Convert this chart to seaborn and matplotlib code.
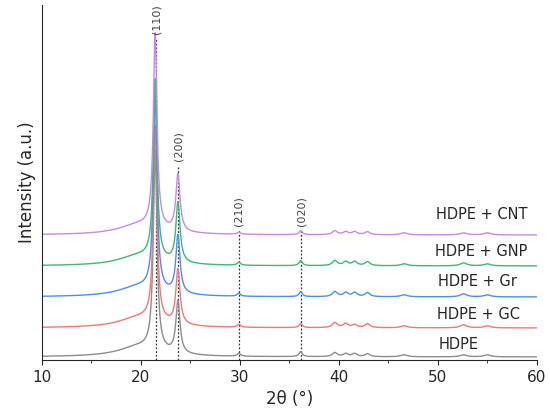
import numpy as np
import pandas as pd
import matplotlib
matplotlib.use("Agg")
import matplotlib.pyplot as plt
import seaborn as sns

samples = ["HDPE", "HDPE + GC", "HDPE + Gr", "HDPE + GNP", "HDPE + CNT"]
colors = ["#8c8c8c", "#f07878", "#4a90e8", "#3cb878", "#c58ae8"]
baselines = [3, 32, 63, 94, 125]
# peak tables: position (2θ), height above baseline, half width
peak_pos = [19.8, 21.45, 23.75, 29.9, 36.15, 39.6, 40.7, 41.6, 42.9, 46.6, 52.6, 55.0]
peak_wid = [2.5, 0.22, 0.25, 0.2, 0.2, 0.3, 0.3, 0.3, 0.3, 0.4, 0.4, 0.4]
peak_h = {
    "HDPE":       [10, 200, 52, 3, 5, 4, 3, 3, 3, 2, 2, 2],
    "HDPE + GC":  [10, 195, 55, 3, 4, 5, 4, 3, 4, 2, 3, 2],
    "HDPE + Gr":  [10, 198, 58, 3, 5, 5, 4, 4, 4, 2, 3, 2],
    "HDPE + GNP": [10, 180, 60, 3, 5, 5, 4, 4, 4, 2, 3, 2],
    "HDPE + CNT": [10, 195, 57, 2, 4, 4, 3, 3, 3, 2, 2, 2],
}
planes = ["(110)", "(200)", "(210)", "(020)"]
plane_x = [21.55, 23.8, 29.9, 36.2]
plane_top = [322, 195, 130, 130]
label_x = [52.1, 54.1, 54.0, 54.4, 54.4]
label_y = [15, 45, 78, 108, 145]

x = np.linspace(10, 60, 2501)
rows = []
for s, b in zip(samples, baselines):
    y = np.full_like(x, b, dtype=float)
    for p, w, h in zip(peak_pos, peak_wid, peak_h[s]):
        y += h / (1 + ((x - p) / w) ** 2)
    rows.append(pd.DataFrame({"x": x, "y": y, "sample": s}))
df = pd.concat(rows)

sns.set_style("ticks")
fig = plt.figure(figsize=(5.5, 4.2), dpi=100)
ax = fig.add_axes([0.076, 0.143, 0.9, 0.845])
for xv, top in zip(plane_x, plane_top):
    ax.plot([xv, xv], [0, top], ls=(0, (1.5, 1.5)), color="#333333", lw=0.9, zorder=1)
sns.lineplot(data=df, x="x", y="y", hue="sample", palette=dict(zip(samples, colors)),
             lw=1.0, legend=False, ax=ax, zorder=2)
for name, xv, top in zip(planes, plane_x, plane_top):
    ax.text(xv, top + 4, name, rotation=90, ha="center", va="bottom", fontsize=8, color="#444444")
for s, lx, ly in zip(samples, label_x, label_y):
    ax.text(lx, ly, s, ha="center", va="center", fontsize=10.5)
ax.set_xlim(10, 60)
ax.set_ylim(0, 355)
ax.set_yticks([])
ax.set_xticks([10, 20, 30, 40, 50, 60])
ax.set_xticks(np.arange(15, 60, 10), minor=True)
ax.tick_params(axis="x", labelsize=11, direction="out")
ax.set_xlabel("2θ (°)", fontsize=12)
ax.set_ylabel("Intensity (a.u.)", fontsize=12)
sns.despine(ax=ax)
fig.savefig("out.png", dpi=100)
